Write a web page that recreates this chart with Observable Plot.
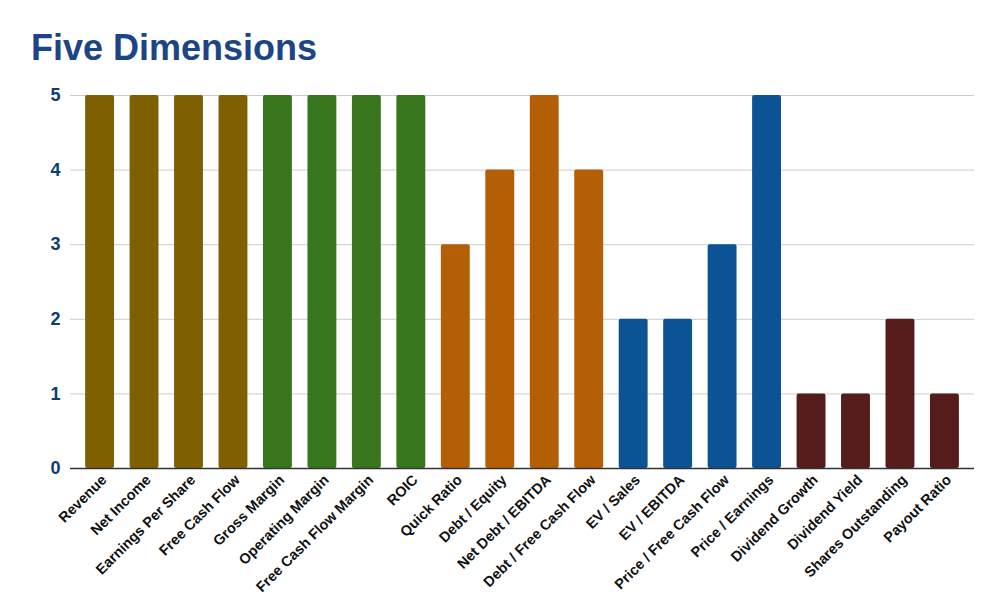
<!DOCTYPE html>
<html>
<head>
<meta charset="utf-8">
<script src="https://cdn.jsdelivr.net/npm/d3@7"></script>
<script src="https://cdn.jsdelivr.net/npm/@observablehq/plot@0.6"></script>
<style>
  html, body { margin: 0; padding: 0; background: #fff; }
  body { width: 999px; height: 615px; overflow: hidden; font-family: "Liberation Sans", Arial, sans-serif; }
  h1 { margin: 0; padding: 26px 0 0 31px; height: 44px; font-size: 36px; font-weight: bold; color: #1c4587; line-height: 44px; }
  #chart svg { display: block; }
</style>
</head>
<body>
<h1>Five Dimensions</h1>
<div id="chart"></div>
<script>
// Metric names, scores (0–5) and the dimension each metric belongs to
const metrics = [
  "Revenue", "Net Income", "Earnings Per Share", "Free Cash Flow",
  "Gross Margin", "Operating Margin", "Free Cash Flow Margin", "ROIC",
  "Quick Ratio", "Debt / Equity", "Net Debt / EBITDA", "Debt / Free Cash Flow",
  "EV / Sales", "EV / EBITDA", "Price / Free Cash Flow", "Price / Earnings",
  "Dividend Growth", "Dividend Yield", "Shares Outstanding", "Payout Ratio"
];
const scores = [5, 5, 5, 5, 5, 5, 5, 5, 3, 4, 5, 4, 2, 2, 3, 5, 1, 1, 2, 1];
const dimensions = [
  "Growth", "Growth", "Growth", "Growth",
  "Profitability", "Profitability", "Profitability", "Profitability",
  "Health", "Health", "Health", "Health",
  "Valuation", "Valuation", "Valuation", "Valuation",
  "Shareholder", "Shareholder", "Shareholder", "Shareholder"
];
const dimensionNames = ["Growth", "Profitability", "Health", "Valuation", "Shareholder"];
const dimensionColors = ["#7f6000", "#38761d", "#b45f06", "#0b5394", "#561c1c"];
const yTicks = [0, 1, 2, 3, 4, 5];

const rows = metrics.map((m, i) => ({metric: m, score: scores[i], dimension: dimensions[i]}));

const chart = Plot.plot({
  width: 999,
  height: 545,
  marginTop: 25,
  marginBottom: 147,
  marginLeft: 70,
  marginRight: 25,
  style: {fontFamily: "'Liberation Sans', Arial, sans-serif", background: "#fff"},
  x: {domain: metrics, paddingInner: 0.35, paddingOuter: 0.34, round: false, label: null},
  y: {domain: [0, 5], ticks: yTicks, label: null},
  color: {domain: dimensionNames, range: dimensionColors},
  marks: [
    Plot.gridY(yTicks.filter(d => d > 0), {stroke: "#cccccc", strokeOpacity: 1, strokeWidth: 1}),
    Plot.barY(rows, {x: "metric", y: "score", fill: "dimension", rx: 2}),
    Plot.ruleY([0], {stroke: "#333333", strokeWidth: 1.5}),
    Plot.axisY({ticks: yTicks, tickFormat: d3.format("d"), tickSize: 0, tickPadding: 10, fontSize: 18, fontWeight: "bold", fill: "#0b3d6e", label: null}),
    Plot.axisX({tickSize: 0, tickPadding: 9, dx: 4, tickRotate: -45, fontSize: 14.5, fontWeight: "bold", fill: "#111", label: null})
  ]
});
document.getElementById("chart").appendChild(chart);
</script>
</body>
</html>
